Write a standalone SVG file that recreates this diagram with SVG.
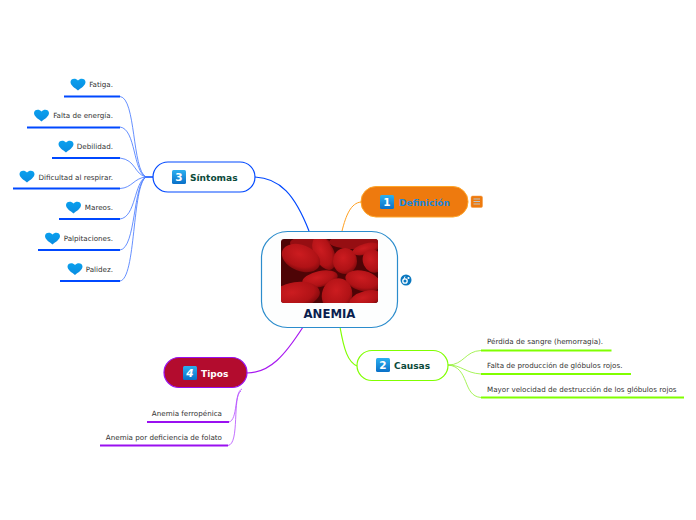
<svg xmlns="http://www.w3.org/2000/svg" width="696" height="520" viewBox="0 0 696 520">
<style>
text{font-family:"DejaVu Sans",Verdana,sans-serif}
.leaf{font-size:7.17px;fill:#333;text-anchor:end}
.leaf2{font-size:7.17px;fill:#333}
.main{font-size:9.05px;font-weight:bold}
.num{font-size:10.5px;font-weight:bold;fill:#fff;text-anchor:middle}
.thin{fill:none;stroke-width:.8}
.blue{stroke:#3f74ff}.green{stroke:#90f030}.purple{stroke:#b44cff}
.ulb{stroke:#0048ff;stroke-width:2}.ulg{stroke:#80ff00;stroke-width:2}.ulp{stroke:#9a10f0;stroke-width:2}
</style>
<defs>
<linearGradient id="bg" x1="0" y1="0" x2="0" y2="1"><stop offset="0" stop-color="#2cb0f0"/><stop offset="1" stop-color="#0a70c8"/></linearGradient>
<linearGradient id="hg" x1="0" y1="0" x2="0" y2="1"><stop offset="0" stop-color="#0aa0ee"/><stop offset="1" stop-color="#0a8ce0"/></linearGradient>
<radialGradient id="cell" cx=".42" cy=".38" r=".72"><stop offset="0" stop-color="#cc1c20"/><stop offset=".65" stop-color="#b01216"/><stop offset="1" stop-color="#6a0608"/></radialGradient>
<clipPath id="ic"><rect x="281" y="239" width="97" height="64" rx="3"/></clipPath>
<path id="heart" d="M0 6.500C-3 4-7.500 1.500-7.500-2C-7.500-5.500-2.500-6.500 0-3.500C2.500-6.500 7.500-5.500 7.500-2C7.500 1.500 3 4 0 6.500Z" fill="url(#hg)"/>
<rect id="badge" width="14" height="14" rx="1.500" fill="url(#bg)"/>
</defs>
<g id="connectors" fill="none">
<path d="M309 231C295 195 280 178 255 177" stroke="#0048ff" stroke-width="1.200"/>
<path d="M342 231C346 215 351 203 361 202" stroke="#ffa020" stroke-width="1"/>
<path d="M303 327C285 355 270 373 247 373" stroke="#a818f0" stroke-width="1.200"/>
<path d="M340 327C344 350 348 362 357 366" stroke="#80ff00" stroke-width="1.200"/>
<path d="M153 177H146" stroke="#0048ff" stroke-width="1.500"/>
<path class="thin blue" d="M146 177C132 170 136 98 120 96.500"/>
<path class="thin blue" d="M146 177C133 172 136 129 120 127"/>
<path class="thin blue" d="M146 177C134 174 136 160 120 158"/>
<path class="thin blue" d="M146 177C134 178 132 188 120 188.500"/>
<path class="thin blue" d="M146 177C134 182 136 217 120 219"/>
<path class="thin blue" d="M146 177C133 184 136 248 120 250"/>
<path class="thin blue" d="M146 177C132 186 136 279 120 281"/>
<path class="thin green" d="M448 365C464 365 465 351 481 350.500"/>
<path class="thin green" d="M448 365C462 365 465 373 481 374"/>
<path class="thin green" d="M448 365C470 367 462 396 481 397.500"/>
<path class="thin purple" d="M242 389C234 392 238 420 229 422"/>
<path class="thin purple" d="M241 391C232 396 240 444 228 445.500"/>
</g>
<g id="central">
<rect x="261.500" y="231.500" width="136" height="96" rx="26" fill="#fdfefe" stroke="#2b8ccc" stroke-width="1.200"/>
<rect x="281" y="239" width="97" height="64" rx="3" fill="#4e0406"/>
<g clip-path="url(#ic)" fill="url(#cell)">
<ellipse cx="310" cy="243" rx="20" ry="7" fill="#960e12"/>
<ellipse cx="355" cy="242" rx="26" ry="7" fill="#960e12"/>
<ellipse cx="324" cy="253" rx="10" ry="18" transform="rotate(-25 324 253)"/>
<ellipse cx="345" cy="261" rx="12" ry="13"/>
<ellipse cx="366" cy="249" rx="14" ry="5.500" transform="rotate(-15 366 249)"/>
<ellipse cx="301" cy="258" rx="20" ry="13" transform="rotate(22 301 258)"/>
<ellipse cx="373" cy="261" rx="10" ry="12" transform="rotate(-25 373 261)"/>
<ellipse cx="363" cy="281" rx="18" ry="10" transform="rotate(15 363 281)"/>
<ellipse cx="320" cy="279" rx="18" ry="8" transform="rotate(-12 320 279)"/>
<ellipse cx="296" cy="295" rx="24" ry="13" transform="rotate(-8 296 295)"/>
<ellipse cx="337" cy="295" rx="15" ry="17" transform="rotate(20 337 295)"/>
<ellipse cx="366" cy="299" rx="17" ry="8" transform="rotate(-15 366 299)"/>
</g>
<text x="329.500" y="318" font-size="11.700" font-weight="bold" fill="#0a1f4f" text-anchor="middle">ANEMIA</text>
</g>
<g id="collapse-icon">
<circle cx="406" cy="280" r="5.500" fill="#0a78c0"/>
<circle cx="405" cy="281" r="2.200" fill="none" stroke="#fff" stroke-width="1.300"/>
<path d="M405 276.500L404 279" stroke="#fff" stroke-width="1"/>
<circle cx="408.500" cy="278" r="1.100" fill="#fff"/>
</g>
<g id="definicion">
<rect x="361" y="186.500" width="107" height="30.500" rx="15" fill="#ee7a0e" stroke="#ffa528" stroke-width="1"/>
<use href="#badge" x="380" y="195"/><text class="num" x="387" y="206">1</text>
<text class="main" x="399" y="206" fill="#1c85d8">Definición</text>
</g>
<g id="note">
<rect x="471" y="196" width="11.500" height="11.500" rx="1.500" fill="#ee7a0e" stroke="#f59a40" stroke-width=".5"/>
<path d="M473.500 199H480M473.500 201.500H480M473.500 204H480" stroke="#b8c4cc" stroke-width="1"/>
</g>
<g id="sintomas">
<rect x="153" y="162" width="102" height="30" rx="15" fill="#fff" stroke="#0048ff" stroke-width="1.200"/>
<use href="#badge" x="172" y="170"/><text class="num" x="179" y="181">3</text>
<text class="main" x="190" y="181" fill="#0b4a3a">Síntomas</text>
</g>
<g id="causas">
<rect x="357" y="350.500" width="91" height="30" rx="15" fill="#fff" stroke="#80ff00" stroke-width="1.200"/>
<use href="#badge" x="376" y="358"/><text class="num" x="383" y="369">2</text>
<text class="main" x="394" y="369" fill="#0b4a3a">Causas</text>
</g>
<g id="tipos">
<rect x="164" y="357.500" width="83" height="30" rx="15" fill="#b30c2e" stroke="#9a10f0" stroke-width="1.200"/>
<use href="#badge" x="183" y="366"/><text class="num" x="190" y="377" font-style="italic">4</text>
<text class="main" x="201" y="377" fill="#fff">Tipos</text>
</g>
<g id="fatiga"><use href="#heart" x="78" y="84"/><text class="leaf" x="113" y="87">Fatiga.</text><path class="ulb" d="M64 96.500H120"/></g>
<g id="falta-energia"><use href="#heart" x="41.500" y="115"/><text class="leaf" x="113" y="118">Falta de energía.</text><path class="ulb" d="M27 127.500H120"/></g>
<g id="debilidad"><use href="#heart" x="66" y="146"/><text class="leaf" x="113" y="149">Debilidad.</text><path class="ulb" d="M52 158H120"/></g>
<g id="dificultad"><use href="#heart" x="27" y="176"/><text class="leaf" x="113" y="180">Dificultad al respirar.</text><path class="ulb" d="M13 188.500H120"/></g>
<g id="mareos"><use href="#heart" x="73.500" y="207"/><text class="leaf" x="113" y="210">Mareos.</text><path class="ulb" d="M59 219H120"/></g>
<g id="palpitaciones"><use href="#heart" x="52.500" y="238"/><text class="leaf" x="113" y="241">Palpitaciones.</text><path class="ulb" d="M38 250H120"/></g>
<g id="palidez"><use href="#heart" x="75" y="268.500"/><text class="leaf" x="113" y="272">Palidez.</text><path class="ulb" d="M60 281H120"/></g>
<g id="perdida"><text class="leaf2" x="487" y="344">Pérdida de sangre (hemorragia).</text><path class="ulg" d="M481 350.500H611.500"/></g>
<g id="falta-produccion"><text class="leaf2" x="487" y="368">Falta de producción de glóbulos rojos.</text><path class="ulg" d="M481 374H631"/></g>
<g id="mayor"><text class="leaf2" x="487" y="392">Mayor velocidad de destrucción de los glóbulos rojos</text><path class="ulg" d="M481 397.500H684"/></g>
<g id="ferropenica"><text class="leaf" x="222" y="416">Anemia ferropénica</text><path class="ulp" d="M147 422H229"/></g>
<g id="folato"><text class="leaf" x="222" y="440">Anemia por deficiencia de folato</text><path class="ulp" d="M100 445.500H228"/></g>
</svg>
